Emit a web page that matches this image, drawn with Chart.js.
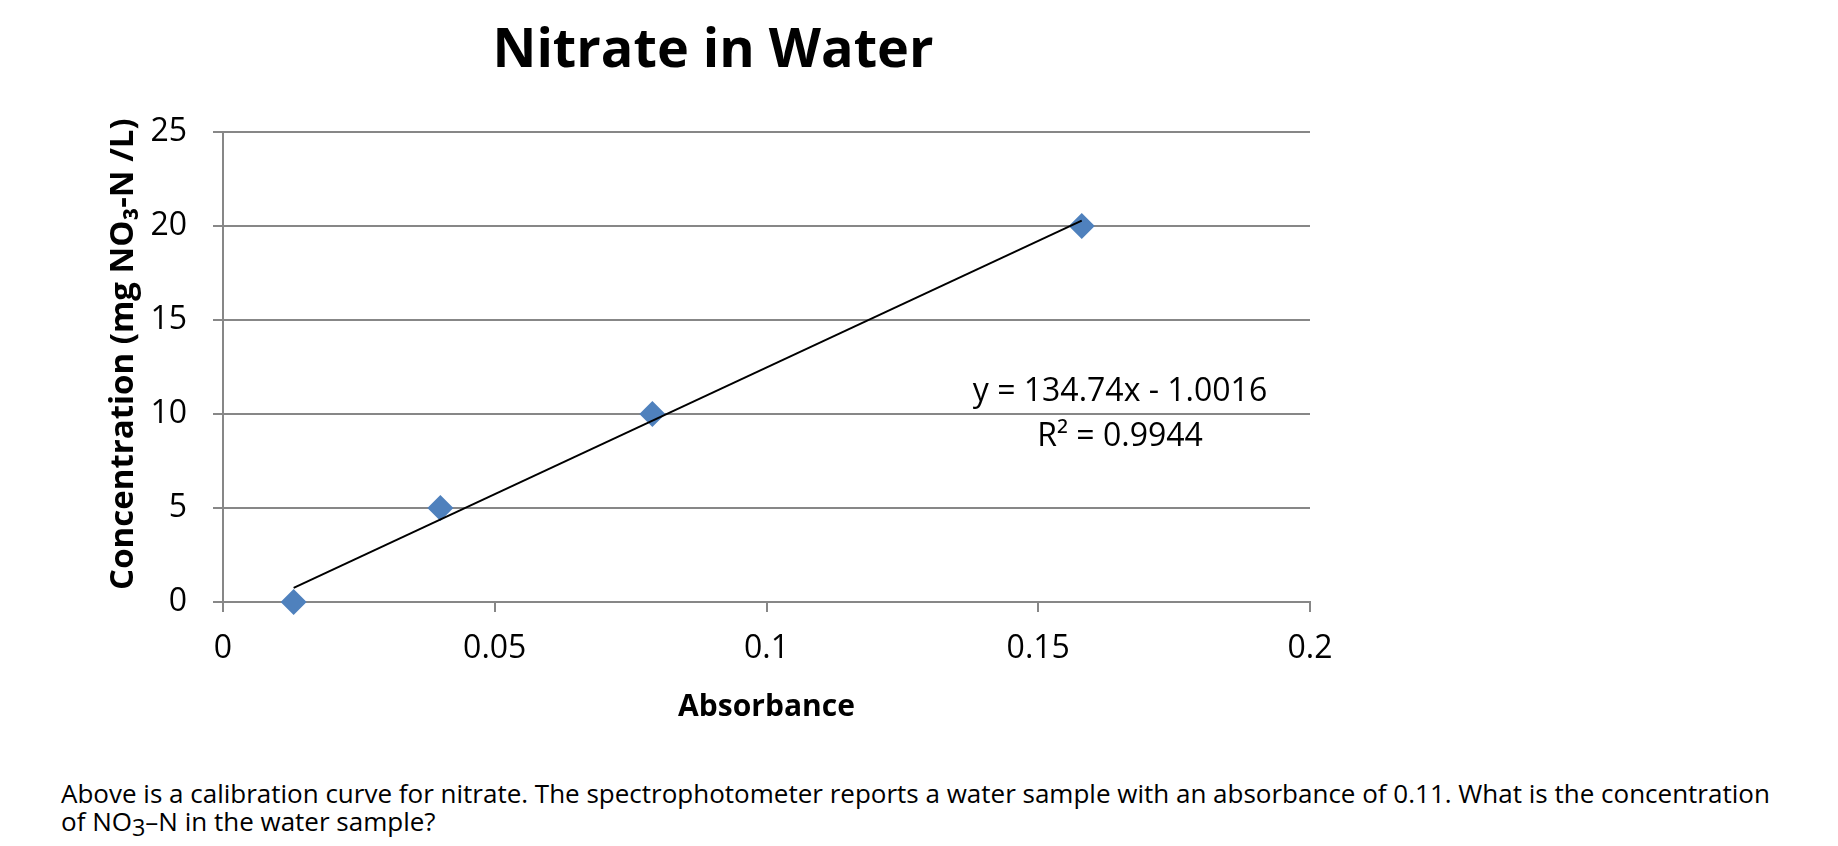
<!DOCTYPE html>
<html>
<head>
<meta charset="utf-8">
<title>Nitrate in Water</title>
<script src="https://cdn.jsdelivr.net/npm/chart.js@4"></script>
<style>
  body { margin: 0; background: #fff; width: 1838px; height: 846px; overflow: hidden; position: relative; }
  #chart { position: absolute; left: 0; top: 0; }
  #caption {
    position: absolute; left: 61px; top: 779px;
    font-family: "Open Sans", sans-serif; font-size: 26px; line-height: 28px;
    color: #000; white-space: nowrap;
  }
  #caption sub { font-size: 0.9em; vertical-align: -0.22em; line-height: 0; }
</style>
</head>
<body>
<canvas id="chart" width="1838" height="760"></canvas>
<div id="caption">Above is a calibration curve for nitrate. The spectrophotometer reports a water sample with an absorbance of 0.11. What is the concentration<br>of NO<sub>3</sub>–N in the water sample?</div>
<script>
// chart data
const chartTitle = "Nitrate in Water";
const absorbance = [0.013, 0.04, 0.079, 0.158];
const concentration = [0, 5, 10, 20];
// trendline ends
const trendX = [0.013, 0.158];
const trendY = [0.75, 20.29];
const equationText = ["y = 134.74x - 1.0016", "R² = 0.9944"];
const xTickLabels = ["0", "0.05", "0.1", "0.15", "0.2"];
const yTickLabels = ["0", "5", "10", "15", "20", "25"];
const xTitle = "Absorbance";
const yTitle = "Concentration (mg NO₃-N /L)";

const gridGray = "#878787";
const markerBlue = "#4F81BD";

// draws the big title and the regression text
const textPlugin = {
  id: "extraText",
  afterDraw(chart, args, opts) {
    const ctx = chart.ctx;
    ctx.save();
    ctx.fillStyle = "#000";
    ctx.textAlign = "center";
    ctx.textBaseline = "alphabetic";
    ctx.font = "bold 54px 'Open Sans'";
    ctx.fillText(chartTitle, opts.titleX, opts.titleY);
    ctx.font = "32px 'Open Sans'";
    ctx.fillText(equationText[0], opts.eqX, opts.eqY);
    ctx.fillText(equationText[1], opts.eqX, opts.eqY + opts.eqGap);
    ctx.restore();
  }
};

const ctx = document.getElementById("chart").getContext("2d");
const chart = new Chart(ctx, {
  type: "scatter",
  data: {
    datasets: [
      {
        type: "line",
        data: trendX.map((x, i) => ({ x: x, y: trendY[i] })),
        borderColor: "#000",
        borderWidth: 2,
        pointRadius: 0,
        fill: false,
        order: 0,
      },
      {
        data: absorbance.map((x, i) => ({ x: x, y: concentration[i] })),
        pointStyle: "rectRot",
        pointRadius: 13,
        pointBackgroundColor: markerBlue,
        pointBorderColor: markerBlue,
        pointBorderWidth: 0,
        clip: false,
        order: 1,
      },
    ],
  },
  options: {
    responsive: false,
    animation: false,
    layout: { padding: { left: 100, right: 528, top: 132, bottom: 18 } },
    plugins: {
      legend: { display: false },
      tooltip: { enabled: false },
      title: { display: false },
      extraText: { titleX: 713, titleY: 67, eqX: 1120, eqY: 401, eqGap: 45 },
    },
    scales: {
      x: {
        type: "linear",
        min: 0,
        max: 0.2,
        afterFit: (scale) => { scale.height = 140; },
        afterBuildTicks: (scale) => {
          scale.ticks = xTickLabels.map((t) => ({ value: parseFloat(t) }));
        },
        ticks: {
          color: "#000",
          font: { family: "Open Sans", size: 32 },
          padding: 18,
          maxRotation: 0,
          callback: (v, i) => xTickLabels[i],
        },
        grid: { drawOnChartArea: false, drawTicks: true, tickLength: 10, color: gridGray, lineWidth: 2 },
        border: { display: true, color: gridGray, width: 2 },
        title: {
          display: true,
          text: xTitle,
          color: "#000",
          font: { family: "Open Sans", size: 30, weight: "bold" },
          padding: { top: 0, bottom: 17 },
        },
      },
      y: {
        type: "linear",
        min: 0,
        max: 25,
        afterFit: (scale) => { scale.width = 123; },
        afterBuildTicks: (scale) => {
          scale.ticks = yTickLabels.map((t) => ({ value: parseFloat(t) }));
        },
        ticks: {
          color: "#000",
          font: { family: "Open Sans", size: 32 },
          padding: 26,
          callback: (v, i) => yTickLabels[i],
        },
        grid: { color: gridGray, lineWidth: 2, tickLength: 10 },
        border: { display: true, color: gridGray, width: 2 },
        title: {
          display: true,
          // leading spaces nudge the rotated title up, as in the original
          text: "\u00a0\u00a0\u00a0" + yTitle,
          color: "#000",
          font: { family: "Open Sans", size: 33, weight: "bold" },
          padding: { top: 4, bottom: 0 },
        },
      },
    },
  },
  plugins: [textPlugin],
});
</script>
</body>
</html>
